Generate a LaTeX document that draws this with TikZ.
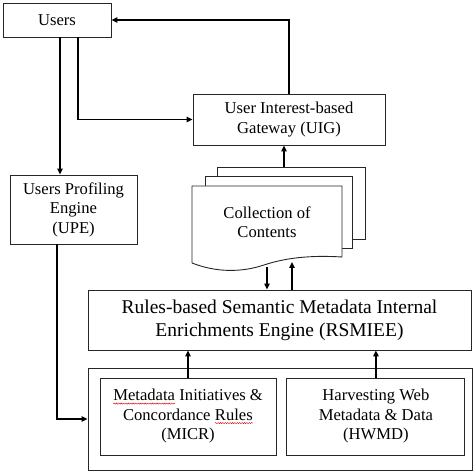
\documentclass[tikz,border=0pt]{standalone}
\usepackage{fontspec}
\setmainfont{Liberation Serif}
\usetikzlibrary{arrows.meta, positioning, calc, decorations.pathmorphing}

% red spell-check wave under a word
\newcommand{\spellmark}[1]{\tikz[baseline=(w.base)]{\node[shape=rectangle, inner sep=0pt, outer sep=0pt, minimum size=0pt, draw=none, fill=none, anchor=base] (w) at (0,0) {#1};
  \draw[red!85!black, line width=0.4pt, decorate, decoration={snake, amplitude=0.6pt, segment length=2.4pt}] ([yshift=-2.6pt]w.base west) -- ([yshift=-2.6pt]w.base east);}}

\begin{document}
\begin{tikzpicture}[x=1pt, y=1pt, >={Triangle[length=6pt, width=5.5pt]}]
		\useasboundingbox (0,0) rectangle (474,-473);
		
		% Define block styles
		\tikzstyle{box} = [rectangle, draw=black!85, line width=0.9pt, fill=white, align=center, inner sep=0pt, font=\fontsize{16.6}{19.5}\selectfont]
		\tikzstyle{bigbox} = [box, font=\fontsize{19.5}{23}\selectfont]
		\tikzstyle{page} = [draw=black!85, line width=0.9pt, fill=white]
		\tikzstyle{link} = [->, line width=1.4pt]
		
		% Nodes
		\node[box, minimum width=108pt, minimum height=34pt] (users) at (57,-20) {Users};
		\node[box, minimum width=192pt, minimum height=51pt] (uig) at (289,-119.5) {User Interest-based\\Gateway (UIG)};
		\node[box, minimum width=127pt, minimum height=69pt] (upe) at (73.5,-209.5) {Users Profiling\\Engine\\(UPE)};
		\node[bigbox, minimum width=383pt, minimum height=60pt] (rsmiee) at (279.5,-320) {Rules-based Semantic Metadata Internal\\Enrichments Engine (RSMIEE)};
		\node[box, minimum width=384pt, minimum height=102pt] (outer) at (280,-419) {};
		\node[box, minimum width=176pt, minimum height=77pt] (micr) at (188,-416.5) {\spellmark{Metadata} Initiatives \&\\Concordance \spellmark{Rules}\\(MICR)};
		\node[box, minimum width=178pt, minimum height=77pt, right=10pt of micr] (hwmd) {Harvesting Web\\Metadata \& Data\\(HWMD)};
		
		% Collection of contents (stacked pages)
		\draw[page] (217,-167) rectangle (365,-239);
		\draw[page] (205,-176) rectangle (352,-248);
		\draw[page] (192,-263) -- (192,-186) -- (342,-186) -- (342,-257)
			.. controls (310,-255) and (285,-258) .. (264,-265)
			.. controls (240,-273) and (215,-272) .. (192,-263);
		\node[font=\fontsize{16.6}{19.5}\selectfont, align=center] (coll) at (267,-222) {Collection of\\Contents};
		\coordinate (stacktop) at (284,-167);
		\coordinate (wavedown) at (267,-267);
		\coordinate (waveup) at (292,-262);
		
		% Arrows
		\draw[link] (uig.north) |- (users.east);
		\draw[link] ([xshift=21pt]users.south) |- (uig.west);
		\draw[link] ([xshift=3pt]users.south) -- ([xshift=3pt]users.south |- upe.north);
		\draw[link] ([xshift=-16.5pt]upe.south) |- (outer.west);
		\draw[link] (stacktop) -- (stacktop |- uig.south);
		\draw[link] (wavedown) -- (wavedown |- rsmiee.north);
		\draw[link] (waveup |- rsmiee.north) -- (waveup);
		\draw[link] (micr.north) -- (micr.north |- rsmiee.south);
		\draw[link] (hwmd.north) -- (hwmd.north |- rsmiee.south);
		
	\end{tikzpicture}
\end{document}
